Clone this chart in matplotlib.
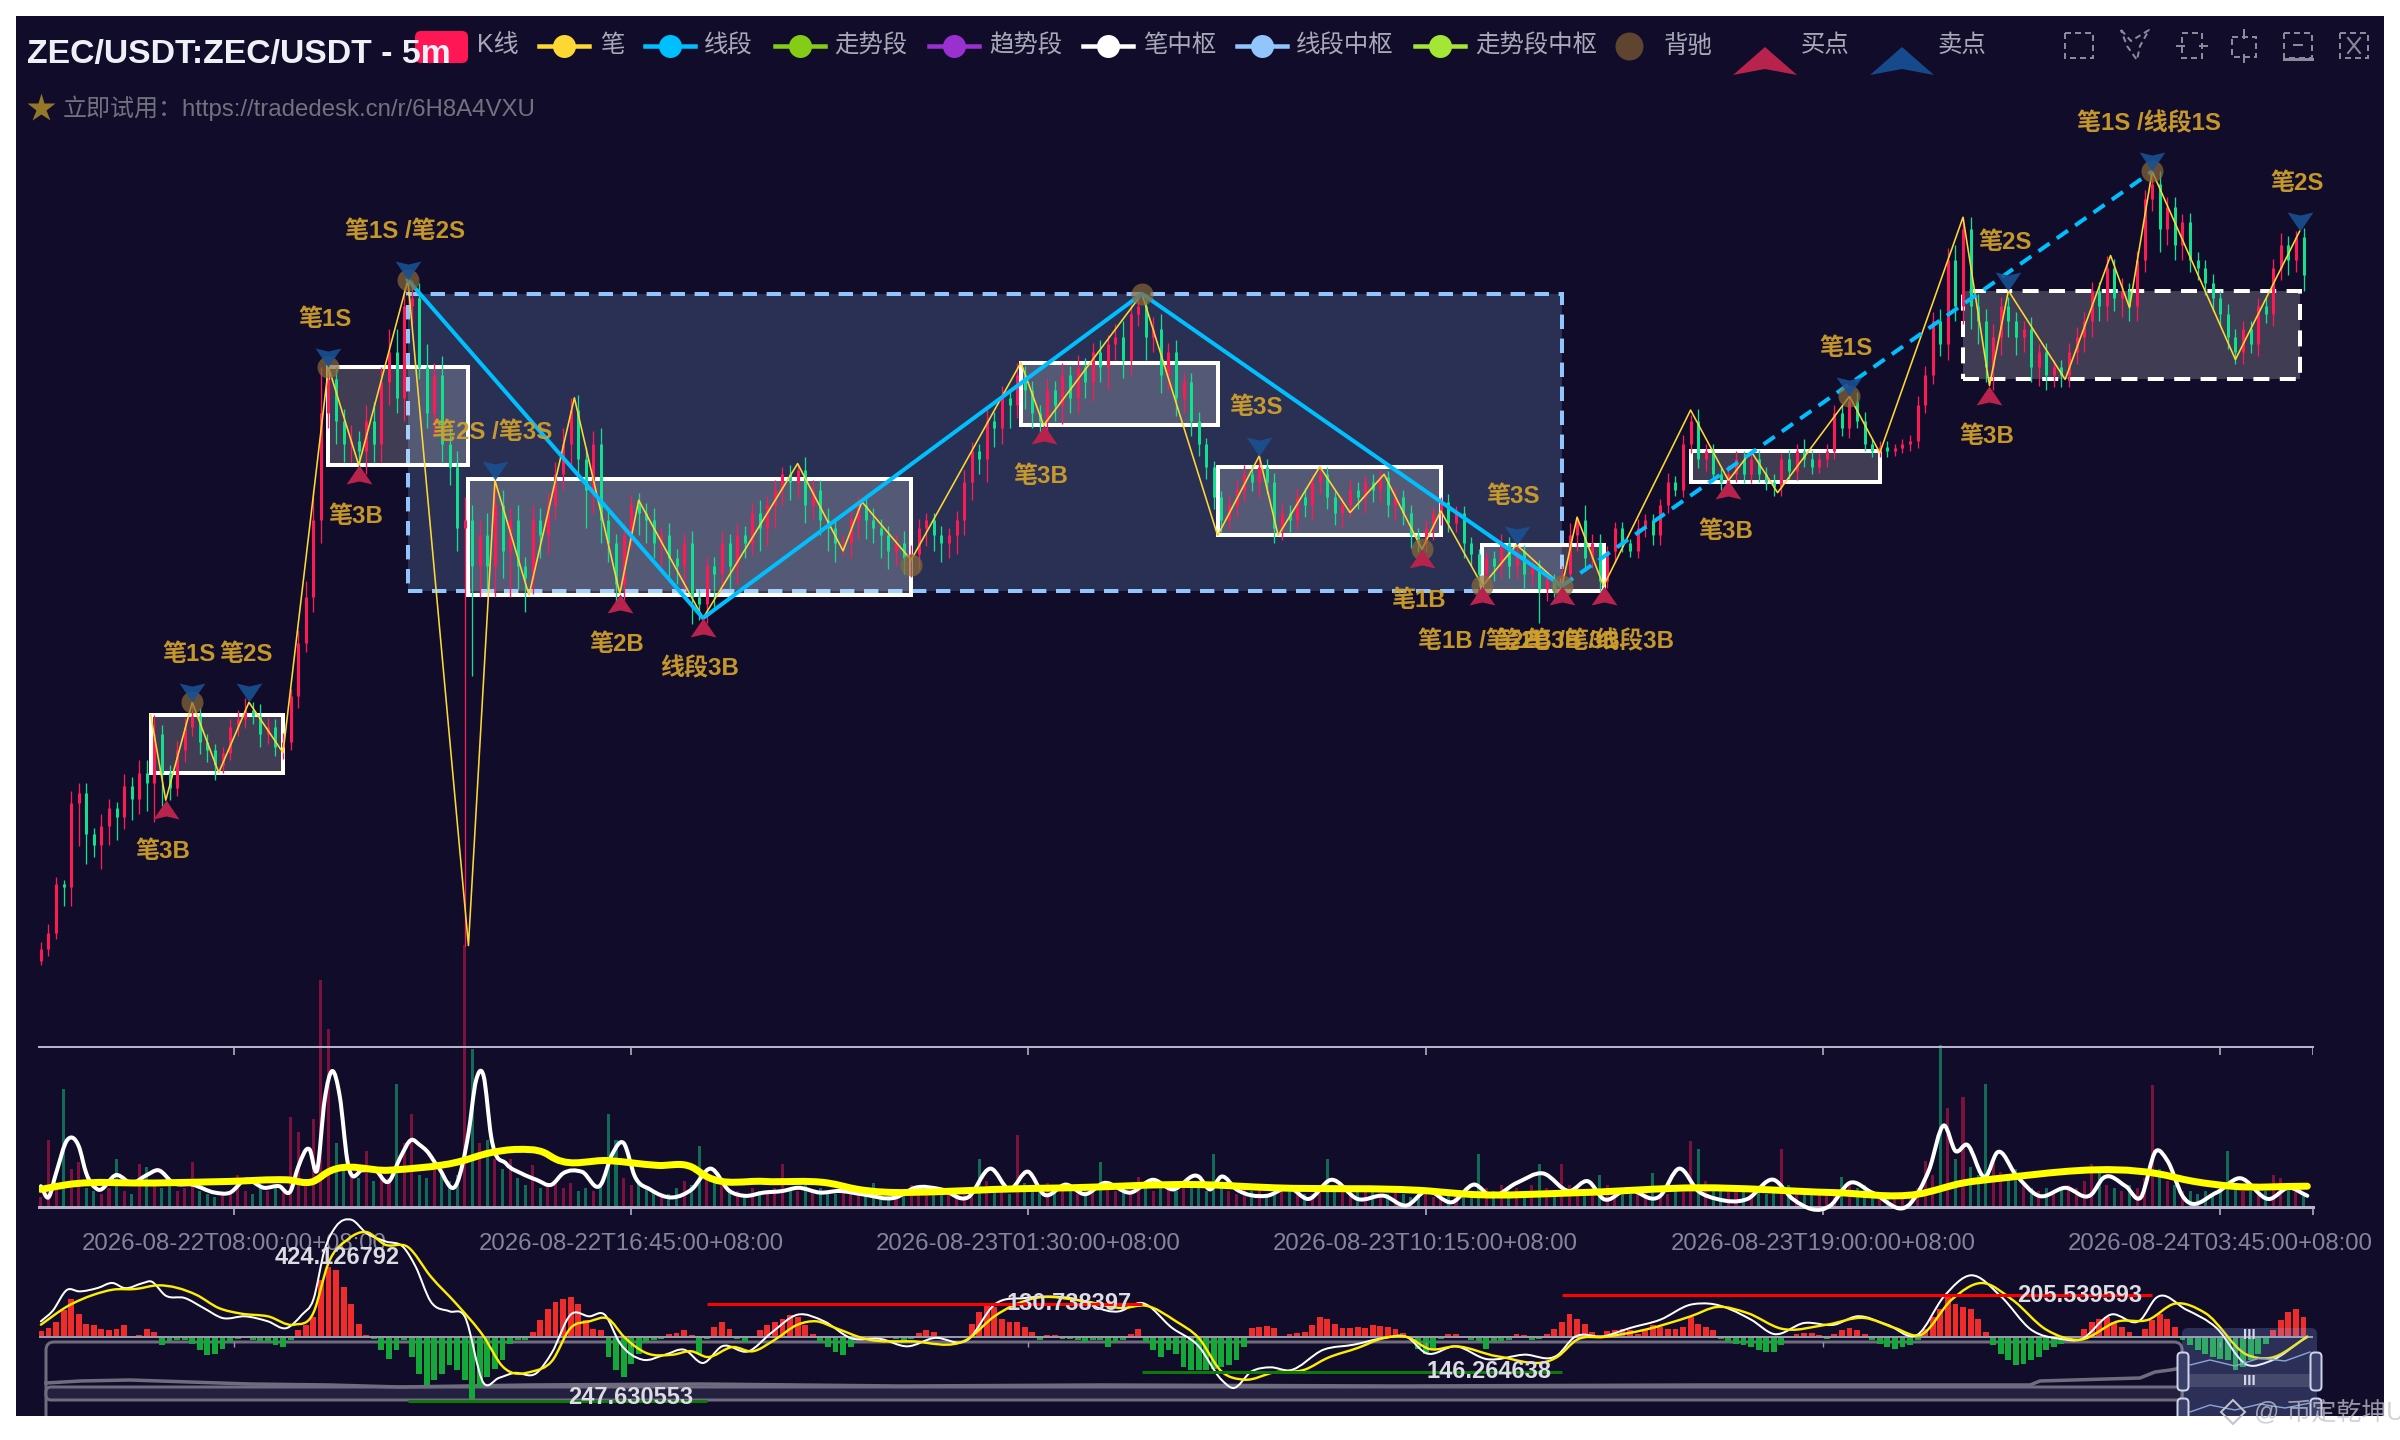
#!/usr/bin/python3
"""ZEC/USDT 5m chan chart: candles, bi/segment lines, pivots, volume and MACD."""

import numpy as np
import matplotlib
matplotlib.use('Agg')
import matplotlib.pyplot as plt
from matplotlib.path import Path
from matplotlib.patches import Rectangle, FancyBboxPatch, PathPatch

plt.rcParams['font.family'] = ['Liberation Sans', 'Noto Sans CJK SC', 'DejaVu Sans']

#
# Data, all read off the picture. The price has no scale there, so units are free.
#

TITLE = "ZEC/USDT:ZEC/USDT - 5m"
SUBTITLE = "立即试用：https://tradedesk.cn/r/6H8A4VXU"

tick_idx = [51, 156, 261, 366, 471, 576]
tick_labels = ["2026-08-22T08:00:00+08:00", "2026-08-22T16:45:00+08:00",
               "2026-08-23T01:30:00+08:00", "2026-08-23T10:15:00+08:00",
               "2026-08-23T19:00:00+08:00", "2026-08-24T03:45:00+08:00"]

# candles, one kept for every second bar
closes = [20, 30, 62, 60, 115, 122, 95, 88, 100, 112, 106, 126, 118, 135, 128, 160, 135, 125, 150, 165,
          172, 155, 150, 140, 148, 165, 170, 176, 172, 160, 165, 152, 155, 185, 220, 250, 300, 370, 392, 365,
          350, 352, 345, 365, 350, 390, 410, 380, 440, 445, 400, 370, 395, 350, 335, 295, 300, 270, 290, 270,
          310, 280, 300, 270, 262, 300, 290, 310, 330, 350, 372, 340, 320, 350, 300, 285, 258, 290, 310, 305,
          300, 285, 290, 275, 270, 285, 250, 245, 270, 265, 285, 270, 290, 285, 305, 295, 310, 320, 330, 325,
          333, 310, 320, 300, 295, 285, 285, 300, 310, 300, 295, 290, 280, 285, 275, 278, 295, 300, 290, 285,
          290, 300, 325, 345, 340, 365, 360, 380, 375, 395, 385, 370, 365, 385, 375, 395, 380, 400, 390, 410,
          400, 415, 420, 405, 435, 440, 420, 425, 395, 410, 380, 390, 365, 350, 335, 315, 300, 310, 320, 330,
          325, 335, 325, 295, 305, 300, 315, 310, 325, 330, 315, 305, 310, 320, 315, 325, 320, 328, 310, 315,
          305, 290, 285, 295, 305, 312, 298, 305, 285, 278, 265, 275, 270, 285, 270, 280, 265, 270, 255, 262,
          255, 265, 290, 300, 275, 285, 260, 280, 295, 285, 280, 295, 300, 290, 310, 325, 320, 350, 365, 340,
          345, 330, 325, 330, 340, 330, 340, 330, 325, 322, 340, 332, 345, 340, 335, 340, 345, 370, 360, 378,
          365, 350, 345, 348, 345, 347, 350, 352, 375, 395, 430, 415, 470, 440, 490, 440, 430, 400, 420, 440,
          430, 420, 425, 400, 410, 395, 400, 395, 410, 420, 430, 450, 440, 465, 445, 450, 440, 470, 510, 520,
          490, 505, 480, 495, 470, 465, 455, 445, 435, 420, 410, 425, 415, 440, 435, 465, 480, 470, 485, 460]
wick_up = [4, 6, 5, 3, 8, 6, 6, 4, 8, 6, 4, 8, 6, 8, 8, 13, 6, 5, 6, 6,
           9, 5, 5, 4, 4, 5, 6, 8, 5, 8, 6, 5, 6, 5, 8, 10, 20, 30, 8, 8,
           8, 10, 6, 10, 12, 10, 15, 15, 12, 12, 10, 15, 8, 12, 10, 10, 15, 10, 10, 15,
           16, 10, 8, 10, 6, 10, 8, 8, 8, 10, 8, 10, 8, 8, 10, 8, 6, 8, 6, 8,
           6, 8, 5, 8, 6, 6, 8, 5, 6, 6, 8, 6, 8, 6, 6, 8, 6, 6, 5, 6,
           4, 8, 6, 6, 8, 6, 5, 8, 6, 6, 8, 6, 6, 5, 8, 6, 6, 5, 5, 6,
           5, 6, 8, 6, 5, 8, 6, 8, 6, 8, 6, 6, 5, 8, 6, 8, 6, 8, 6, 6,
           8, 6, 8, 10, 6, 8, 8, 8, 10, 6, 8, 6, 6, 6, 4, 4, 4, 6, 6, 6,
           6, 7, 5, 6, 6, 5, 6, 6, 5, 4, 5, 4, 5, 6, 5, 4, 5, 5, 4, 6,
           5, 5, 5, 5, 3, 3, 5, 4, 4, 4, 3, 4, 5, 6, 4, 4, 4, 4, 4, 3,
           3, 5, 8, 2, 10, 6, 6, 3, 4, 4, 3, 6, 4, 4, 4, 6, 4, 6, 4, 8,
           5, 5, 5, 6, 5, 5, 5, 6, 5, 5, 4, 6, 5, 8, 6, 4, 5, 5, 5, 3,
           6, 6, 4, 4, 4, 3, 3, 4, 6, 6, 6, 8, 8, 10, 8, 8, 8, 8, 8, 6,
           6, 6, 5, 8, 5, 6, 5, 5, 6, 6, 6, 6, 6, 8, 6, 8, 5, 6, 6, 8,
           8, 6, 6, 5, 6, 5, 5, 6, 5, 6, 5, 5, 5, 5, 6, 6, 8, 6, 4, 6]
wick_down = [3, 5, 4, 12, 12, 28, 20, 8, 16, 12, 15, 8, 14, 10, 18, 25, 22, 8, 5, 8,
             6, 8, 8, 10, 5, 5, 6, 6, 5, 8, 6, 6, 8, 5, 8, 6, 10, 15, 10, 15,
             12, 12, 10, 15, 12, 12, 15, 10, 15, 12, 8, 10, 15, 12, 12, 15, 273, 72, 20, 15,
             20, 18, 30, 15, 22, 10, 15, 12, 10, 10, 15, 12, 25, 15, 15, 12, 15, 10, 8, 15,
             15, 10, 15, 12, 12, 15, 18, 10, 12, 22, 10, 15, 12, 10, 8, 15, 12, 15, 10, 12,
             10, 12, 10, 10, 15, 12, 8, 10, 12, 12, 10, 15, 12, 10, 10, 12, 10, 12, 10, 12,
             10, 12, 10, 12, 10, 15, 12, 10, 15, 8, 12, 10, 8, 12, 10, 12, 10, 10, 10, 12,
             10, 15, 10, 12, 10, 8, 15, 10, 12, 10, 12, 10, 10, 8, 8, 8, 8, 6, 8, 8,
             6, 10, 8, 10, 8, 8, 6, 8, 10, 8, 8, 8, 10, 8, 8, 10, 8, 8, 8, 10,
             8, 8, 6, 6, 8, 8, 6, 6, 10, 8, 8, 6, 10, 8, 8, 8, 10, 8, 22, 8,
             5, 5, 5, 10, 8, 6, 6, 4, 8, 6, 4, 5, 6, 6, 6, 5, 4, 5, 6, 6,
             8, 5, 5, 5, 5, 6, 6, 5, 5, 6, 6, 5, 6, 5, 5, 4, 5, 5, 5, 6,
             5, 5, 4, 4, 4, 3, 3, 5, 5, 5, 6, 8, 10, 10, 12, 15, 15, 10, 15, 12,
             10, 12, 10, 10, 12, 10, 8, 8, 8, 8, 10, 10, 10, 10, 8, 12, 10, 10, 8, 8,
             15, 10, 10, 10, 8, 8, 8, 8, 8, 8, 8, 8, 6, 8, 6, 8, 8, 10, 8, 10]

# bi (stroke) line and segment line, turning points
bi_idx = [29, 33, 40, 47, 55, 64, 76, 84, 97, 113, 120, 129, 141, 153, 158, 175, 200, 212, 217, 230,
          259, 265, 291, 311, 322, 327, 338, 346, 355, 365, 370, 381, 390, 402, 406, 413, 436, 446, 452, 459,
          478, 486, 508, 515, 520, 535, 547, 552, 558, 580, 597]
bi_price = [173, 117, 181, 135, 181, 148, 400, 336, 457, 22, 326, 251, 380, 252, 313, 236, 337, 280, 312, 274,
            403, 362, 448, 290, 342, 290, 335, 305, 330, 281, 306, 257, 284, 257, 302, 257, 372, 326, 345, 318,
            381, 344, 498, 388, 450, 392, 473, 439, 528, 405, 489]
seg_idx = [97, 175, 291, 402]
seg_price = [457, 236, 448, 257]
seg_open_idx = [402, 558]
seg_open_price = [257, 528]

# pivots: first index, last index, low, high
pivot_start = [29, 76, 113, 259, 311, 381, 436]
pivot_end = [64, 113, 230, 311, 370, 413, 486]
pivot_low = [135, 336, 251, 362, 290, 254, 325]
pivot_high = [173, 400, 327, 403, 335, 284, 345]
open_pivot = (508, 597, 392, 450)
seg_pivot = (97, 402, 254, 448)

beichi_idx = [40, 76, 97, 230, 291, 365, 381, 402, 478, 558]
beichi_price = [181, 400, 457, 271, 448, 281, 257, 257, 381, 528]

buy_idx = [33, 84, 153, 175, 265, 365, 381, 402, 413, 446, 515]
buy_price = [117, 336, 252, 236, 362, 281, 257, 257, 257, 326, 388]
buy_text = ["笔3B", "笔3B", "笔2B", "线段3B", "笔3B", "笔1B", "笔1B /笔2B", "笔2B /笔3B", "笔3B /线段3B", "笔3B", "笔3B"]
buy_gap = [51, 51, 51, 51, 51, 51, 56, 56, 56, 51, 51]
sell_idx = [40, 55, 76, 97, 120, 322, 390, 478, 520, 558, 597]
sell_price = [181, 181, 400, 457, 326, 342, 284, 381, 450, 528, 489]
sell_text = ["笔1S", "笔2S", "笔1S", "笔1S /笔2S", "笔2S /笔3S", "笔3S", "笔3S", "笔1S", "笔2S", "笔1S /线段1S", "笔2S"]

# volume, one kept for every second bar
volumes = [6, 42, 14, 74, 24, 28, 12, 10, 8, 12, 30, 10, 8, 27, 25, 14, 12, 14, 10, 12,
           28, 10, 8, 6, 8, 9, 20, 10, 8, 12, 10, 14, 10, 56, 47, 16, 55, 142, 111, 40,
           25, 22, 18, 35, 16, 20, 18, 77, 40, 58, 20, 18, 25, 22, 16, 20, 164, 99, 40, 42,
           30, 24, 30, 18, 14, 26, 12, 14, 16, 12, 15, 10, 12, 10, 14, 58, 42, 18, 14, 16,
           12, 10, 8, 8, 12, 16, 14, 38, 20, 18, 14, 10, 10, 8, 12, 10, 10, 12, 27, 12,
           10, 14, 10, 12, 10, 8, 10, 8, 10, 8, 15, 8, 7, 6, 8, 14, 10, 12, 10, 8,
           8, 6, 8, 10, 30, 16, 10, 12, 8, 45, 15, 10, 12, 15, 10, 10, 12, 8, 10, 10,
           28, 12, 10, 12, 10, 19, 12, 10, 14, 12, 10, 14, 12, 16, 10, 33, 12, 10, 8, 12,
           10, 12, 8, 8, 10, 12, 10, 8, 8, 12, 30, 12, 10, 8, 10, 12, 10, 8, 8, 10,
           8, 6, 8, 8, 6, 8, 10, 8, 8, 10, 33, 12, 10, 14, 10, 12, 10, 14, 27, 12,
           10, 27, 14, 12, 10, 12, 20, 14, 10, 8, 8, 10, 12, 21, 8, 8, 10, 14, 41, 36,
           16, 12, 10, 14, 12, 10, 8, 10, 8, 12, 36, 14, 8, 10, 8, 10, 8, 8, 19, 15,
           12, 14, 10, 8, 6, 6, 6, 8, 12, 29, 20, 101, 62, 30, 69, 25, 20, 77, 30, 22,
           20, 24, 14, 12, 10, 12, 10, 12, 14, 12, 16, 27, 24, 14, 12, 10, 14, 12, 18, 76,
           24, 16, 14, 10, 10, 8, 10, 8, 10, 35, 12, 10, 10, 8, 10, 20, 18, 12, 10, 8]
ma5_idx = [0, 2, 4, 7, 10, 12, 15, 20, 24, 28, 31, 35, 40, 46, 50, 54, 59, 63, 66, 68,
           71, 73, 75, 77, 79, 81, 85, 88, 92, 95, 98, 100, 102, 105, 110, 113, 115, 117, 119, 123,
           127, 131, 135, 138, 143, 148, 151, 154, 157, 161, 167, 172, 177, 182, 186, 191, 196, 200, 206, 211,
           217, 226, 231, 238, 245, 251, 256, 261, 265, 271, 276, 281, 288, 294, 299, 306, 309, 312, 316, 324,
           330, 335, 341, 348, 355, 361, 366, 373, 379, 383, 390, 397, 404, 409, 413, 419, 428, 433, 438, 443,
           451, 458, 463, 473, 478, 484, 494, 499, 503, 506, 509, 514, 517, 522, 528, 535, 542, 545, 551, 555,
           559, 562, 566, 575, 581, 589, 594, 599]
ma5_vals = [13, 6, 21, 42, 38, 21, 11, 20, 15, 20, 23, 15, 14, 9, 9, 17, 12, 13, 10, 25,
            36, 23, 67, 85, 69, 29, 23, 24, 16, 31, 42, 39, 35, 25, 15, 46, 79, 82, 44, 27,
            21, 17, 14, 21, 22, 14, 33, 40, 19, 11, 6, 11, 24, 10, 7, 9, 10, 12, 9, 10,
            8, 6, 12, 11, 6, 24, 11, 22, 8, 14, 8, 15, 9, 17, 11, 19, 11, 19, 11, 7,
            12, 5, 17, 5, 7, 1, 10, 3, 14, 7, 15, 21, 10, 16, 5, 11, 7, 24, 10, 5,
            5, 17, 5, 1, 15, 9, 2, 23, 51, 35, 39, 19, 34, 20, 7, 12, 8, 18, 13, 6,
            35, 29, 7, 9, 18, 5, 12, 7]
ma60_idx = [0, 7, 30, 50, 65, 72, 76, 92, 110, 119, 126, 133, 136, 150, 163, 172, 176, 191, 208, 216,
            242, 252, 272, 306, 326, 367, 377, 407, 438, 474, 496, 508, 518, 559, 569, 579, 599]
ma60_vals = [11, 14, 15, 16, 17, 16, 22, 23, 28, 34, 36, 34, 30, 29, 26, 25, 19, 16, 15, 11,
             10, 11, 12, 14, 12, 10, 8, 9, 12, 9, 8, 15, 18, 21, 16, 13, 13]

# macd lines and histogram, same arbitrary unit
dif_idx = [0, 3, 7, 10, 15, 19, 22, 27, 29, 33, 38, 43, 48, 54, 60, 65, 69, 72, 75, 78,
           82, 86, 91, 96, 99, 103, 108, 112, 117, 121, 125, 131, 135, 140, 145, 149, 153, 159, 165, 170,
           175, 180, 187, 193, 200, 207, 214, 222, 229, 236, 245, 252, 260, 272, 285, 291, 299, 306, 312, 315,
           320, 325, 330, 339, 347, 355, 361, 366, 374, 382, 392, 401, 405, 413, 420, 428, 436, 441, 452, 458,
           466, 474, 480, 488, 496, 503, 510, 518, 526, 534, 539, 547, 555, 559, 567, 575, 583, 589, 599]
dif_vals = [47, 77, 142, 137, 147, 162, 147, 162, 167, 124, 117, 87, 57, 62, 47, 27, 67, 112, 262, 332,
            352, 312, 287, 267, 212, 107, 77, 62, -138, -123, -108, -108, -48, 67, 62, 67, -18, -68, -53, -38,
            -78, -28, -43, 12, 67, 47, -3, -6, -28, -3, -8, 97, 117, 117, 77, 102, 27, -28, -128, -153,
            -103, -91, -100, -38, -23, -3, 0, -48, -28, -66, -53, -53, -3, 2, 27, 52, 97, 100, 52, 9,
            42, 37, 62, 37, 7, 122, 185, 122, 22, -6, -8, 67, 52, 117, 82, 27, -83, -73, 2]
dea_idx = [0, 7, 14, 19, 25, 31, 41, 47, 53, 60, 67, 72, 76, 81, 86, 91, 97, 103, 110, 117,
           122, 130, 135, 140, 145, 150, 154, 160, 167, 172, 176, 183, 188, 194, 200, 205, 210, 218, 230, 245,
           252, 262, 276, 286, 292, 300, 306, 312, 318, 326, 334, 340, 348, 355, 361, 367, 374, 385, 401, 406,
           413, 424, 436, 443, 451, 460, 472, 482, 490, 497, 505, 513, 521, 530, 539, 549, 557, 564, 572, 583,
           589, 599]
dea_vals = [37, 92, 127, 142, 144, 155, 127, 87, 70, 62, 37, 72, 222, 292, 315, 277, 270, 182, 97, 2,
            -88, -103, -73, 27, 47, 54, 2, -48, -53, -43, -60, -30, -43, -8, 37, 47, 27, -6, -13, -6,
            62, 115, 107, 87, 94, 47, -3, -103, -128, -106, -98, -63, -33, -3, 0, -36, -28, -58, -58, -8,
            0, 22, 62, 90, 72, 25, 37, 57, 27, 7, 112, 162, 112, 22, -8, 47, 52, 100, 72, -53,
            -63, 0]
macd_hist = [18, 28, 45, 80, 115, 70, 40, 35, 25, 20, 25, 35, -4, 5, 25, 15, -25, -12, -8, -10,
             -22, -40, -55, -50, -35, -15, -6, -3, -8, -12, -15, -25, -30, -10, 20, 35, 60, 170, 210, 200,
             150, 100, 40, 5, -5, -40, -65, -40, -10, -60, -110, -145, -130, -110, -85, -100, -130, -185, -150, -120,
             -95, -70, -20, -10, -8, 15, 50, 85, 105, 115, 120, 100, 50, 25, 20, -60, -100, -120, -80, -50,
             -15, -10, -5, 8, 12, 20, 5, -50, -5, 30, 45, 25, -5, -15, -3, 20, 35, 45, 55, 65,
             60, 35, 10, -15, -30, -45, -55, -30, -8, -5, -4, -3, -3, -5, -15, -5, 12, 20, 15, 3,
             -2, -3, -4, 40, 75, 95, 90, 55, 45, 45, 30, 15, -8, 5, 5, -5, -6, -8, -15, -8,
             -10, -30, -15, -8, 10, 25, -15, -40, -60, -40, -50, -90, -100, -100, -100, -95, -90, -85, -70, -30,
             28, 30, 32, 28, 3, 8, 12, 15, 35, 60, 55, 40, 28, 28, 30, 28, 35, 32, 30, 25,
             12, 3, -35, -50, -40, -5, 8, 8, -4, -10, -12, -35, -12, -12, -10, 10, 5, -8, -5, 10,
             25, 45, 70, 55, 40, 15, 5, 18, 22, 25, 22, 10, 25, 35, 30, 25, 25, 30, 60, 40,
             30, 20, -5, -15, -20, -25, -30, -40, -45, -45, -25, -3, 8, 12, 12, 5, -5, 10, 20, 28,
             22, 10, -8, -22, -30, -35, -30, -25, -8, 25, 60, 85, 120, 100, 90, 85, 55, 15, -25, -50,
             -70, -85, -80, -70, -60, -40, -30, -20, -8, -3, 25, 45, 55, 60, 45, 30, 15, 3, 25, 50,
             70, 55, 30, -10, -25, -40, -50, -60, -65, -70, -100, -90, -70, -50, -20, 20, 50, 75, 85, 60]
# mark lines between the segment ends: level, first index, last index
macd_red_marks = [(98, 176, 291), (125, 402, 558)]
macd_green_marks = [(-191, 97, 176), (-106, 291, 402)]

legend_names = ["笔", "线段", "走势段", "趋势段", "笔中枢", "线段中枢", "走势段中枢"]
legend_colors = ["#fdd835", "#00bfff", "#84cc16", "#9b30d0", "#ffffff", "#93c5fd", "#a3e635"]
macd_peaks = ["424.126792", "130.738397", "247.630553", "146.264638", "205.539593"]

# data shadow of the zoom slider, its own free scale
shadow_x = [46, 80, 130, 250, 330, 400, 530, 700, 900, 1100, 1400, 1700, 1880, 2030, 2040, 2140, 2155, 2170, 2182]
shadow_y = [1383, 1381, 1380, 1384, 1385, 1387, 1385, 1384, 1386, 1385, 1386, 1385, 1385, 1385, 1381, 1378, 1372, 1370, 1368]

#
# Plot
#

UP, DOWN = '#ff1a55', '#12e08f'
BG = '#100c2a'
W, H = 2400, 1440
LABEL = '#d0a02c'

px = 72 / 100  # points per pixel at dpi 100


def axes_at(left, top, right, bottom, zorder):
    ax = fig.add_axes([left / W, 1 - bottom / H, (right - left) / W, (bottom - top) / H], zorder=zorder)
    ax.patch.set_visible(False)
    return ax


def smooth_line(ax, xs, ys, **kwargs):
    """Draw a smooth curve through the points, like the smooth option of the original chart."""
    x, y = np.asarray(xs, float), np.asarray(ys, float)
    m = np.gradient(y, x)
    verts, codes = [(x[0], y[0])], [Path.MOVETO]
    for k in range(len(x) - 1):
        d = (x[k + 1] - x[k]) / 3
        verts += [(x[k] + d, y[k] + m[k] * d), (x[k + 1] - d, y[k + 1] - m[k + 1] * d), (x[k + 1], y[k + 1])]
        codes += [Path.CURVE4] * 3
    patch = PathPatch(Path(verts, codes), fc='none', capstyle='round', joinstyle='round', **kwargs)
    ax.add_patch(patch)
    return patch


fig = plt.figure(figsize=(24, 14.4), dpi=100, facecolor='white')

# whole figure in pixels, for the things that are not data
bg = axes_at(0, 0, W, H, 0)
bg.set_xlim(0, W)
bg.set_ylim(H, 0)
bg.axis('off')
top = axes_at(0, 0, W, H, 6)
top.set_xlim(0, W)
top.set_ylim(H, 0)
top.axis('off')

panel = Rectangle((16, 16), 2368, 1400, fc=BG, ec='none')
bg.add_patch(panel)

# slider behind the macd
outline = FancyBboxPatch((46, 1342), 2136, 120, boxstyle='round,pad=0,rounding_size=8',
                         fc='none', ec='#6e6c7e', lw=3 * px)
bg.add_patch(outline)
outline.set_clip_path(panel)
bg.add_patch(FancyBboxPatch((46, 1387), 2136, 13, boxstyle='round,pad=0,rounding_size=5',
                            fc='#232040', ec='#6e6c7e', lw=3 * px))
bg.plot(shadow_x, shadow_y, color='#6e6c7e', lw=3.5 * px)

XLIM = (-0.5, 600.5)

# price
ax = axes_at(39, 122.4, 2313, 1040.4, 2)
ax.set_xlim(*XLIM)
ax.set_ylim(-40, 560)
ax.axis('off')

n = len(closes)
c_idx = np.arange(n) * 2
c_close = np.array(closes, dtype=float)
c_open = np.r_[c_close[0] - 8, c_close[:-1]]
c_high = np.maximum(c_open, c_close) + np.array(wick_up[:n])
c_low = np.minimum(c_open, c_close) - np.array(wick_down[:n])
c_color = [UP if c >= o else DOWN for o, c in zip(c_open, c_close)]

for s, e, lo, hi in zip(pivot_start, pivot_end, pivot_low, pivot_high):
    ax.add_patch(Rectangle((s, lo), e - s, hi - lo, fc=(1, 1, 1, 0.2), ec='white', lw=4 * px, zorder=3))
s, e, lo, hi = open_pivot
ax.add_patch(Rectangle((s, lo), e - s, hi - lo, fc=(1, 1, 1, 0.2), ec='white', lw=4 * px,
                       linestyle=(0, (4, 2.6)), zorder=3))
s, e, lo, hi = seg_pivot
ax.add_patch(Rectangle((s, lo), e - s, hi - lo, fc=(0.576, 0.773, 0.992, 0.2), ec='#93c5fd', lw=4 * px,
                       linestyle=(0, (3.6, 2.4)), zorder=2))

ax.vlines(c_idx, c_low, c_high, colors=c_color, lw=1.3 * px, zorder=4, capstyle='butt')
ax.vlines(c_idx, c_open, c_close, colors=c_color, lw=3 * px, zorder=4, capstyle='butt')

ax.plot(bi_idx, bi_price, color='#fdd835', lw=1.6 * px, zorder=5)
ax.plot(seg_idx, seg_price, color='#00bfff', lw=4 * px, zorder=6)
ax.plot(seg_open_idx, seg_open_price, color='#00bfff', lw=4 * px, linestyle=(0, (3.4, 2.2)), zorder=6)

ax.plot(beichi_idx, beichi_price, 'o', ms=22 * px, color='#8a6a3a', alpha=0.7, mec='none', zorder=7, ls='none')

hw = 0.68
buy_marker = Path([(0, 0), (hw, -1), (0, -0.84), (-hw, -1), (0, 0)],
                  [Path.MOVETO, Path.LINETO, Path.LINETO, Path.LINETO, Path.CLOSEPOLY])
sell_marker = Path([(0, 0), (hw, 1), (0, 0.84), (-hw, 1), (0, 0)],
                   [Path.MOVETO, Path.LINETO, Path.LINETO, Path.LINETO, Path.CLOSEPOLY])
ax.plot(buy_idx, buy_price, ls='none', marker=buy_marker, ms=38 * px, color='#b7234d', mec='none', zorder=8)
ax.plot(sell_idx, sell_price, ls='none', marker=sell_marker, ms=38 * px, color='#1a5092', mec='none', alpha=0.9, zorder=8)
for i, p, t, gap in zip(buy_idx, buy_price, buy_text, buy_gap):
    ax.annotate(t, (i, p), xytext=(-3 * px, -gap * px), textcoords='offset points', ha='center', va='center',
                color=LABEL, fontsize=17.3, fontweight='bold', zorder=9, alpha=0.95)
for i, p, t in zip(sell_idx, sell_price, sell_text):
    ax.annotate(t, (i, p), xytext=(-3 * px, 48 * px), textcoords='offset points', ha='center', va='center',
                color=LABEL, fontsize=17.3, fontweight='bold', zorder=9, alpha=0.95)

# volume
vol = axes_at(39, 1047, 2313, 1207, 3)
vol.set_xlim(*XLIM)
vol.set_ylim(0, 100)
v_idx = np.arange(len(volumes)) * 2
v_color = (c_color + [UP] * len(volumes))[:len(volumes)]
vol.bar(v_idx, volumes, width=0.8, color=v_color, alpha=0.45, clip_on=False, lw=0)
smooth_line(vol, ma5_idx, ma5_vals, ec='white', lw=4 * px, clip_on=False, zorder=4)
smooth_line(vol, ma60_idx, ma60_vals, ec='#ffff00', lw=7 * px, zorder=5)
for name in ('left', 'right'):
    vol.spines[name].set_visible(False)
for name in ('top', 'bottom'):
    vol.spines[name].set_color('#b6b3c8')
vol.spines['top'].set_linewidth(2 * px)
vol.spines['bottom'].set_linewidth(3 * px)
vol.set_yticks([])
vol.set_xticks(tick_idx + [XLIM[1]])
vol.set_xticklabels(tick_labels + [""], fontsize=17.3, color='#85859a')
vol.tick_params(axis='x', length=8 * px, width=1.6 * px, color='#b6b3c8', pad=13)
vol.vlines(tick_idx + [XLIM[1]], 95, 100, color='#b6b3c8', lw=1.6 * px)

# macd
macd = axes_at(39, 1200, 2313, 1416, 4)
macd.set_xlim(*XLIM)
macd.set_ylim(-237, 411)
macd.axis('off')
h_idx = np.arange(len(macd_hist)) * 2
h_color = ['#f02b2b' if h >= 0 else '#14a83a' for h in macd_hist]
macd.bar(h_idx, macd_hist, width=1.55, color=h_color, lw=0)
macd.axhline(0, color='#9a98aa', lw=2 * px, zorder=1)
smooth_line(macd, dif_idx, dif_vals, ec='white', lw=2 * px, zorder=3)
smooth_line(macd, dea_idx, dea_vals, ec='#ffee00', lw=2.4 * px, zorder=3)
for level, a, b in macd_red_marks:
    macd.hlines(level, a, b, color='#ff0000', lw=3 * px, zorder=4)
for level, a, b in macd_green_marks:
    macd.hlines(level, a, b, color='#0b7a0b', lw=3 * px, zorder=4)
macd.vlines(tick_idx, -30, -15, color='#9a98aa', lw=1.4 * px)
for text, x, y in zip(macd_peaks, [337, 1069, 631, 1489, 2080], [1258, 1303, 1398, 1371, 1295]):
    top.text(x, y, text, color='#dcdce2', fontsize=17, fontweight='bold', ha='center', va='center')

# title, legend, toolbox
top.add_patch(FancyBboxPatch((421, 37), 41, 20, boxstyle='round,pad=6,rounding_size=6', fc='#ff1654', ec='none'))
top.text(27, 55, TITLE, color='#eef0f8', fontsize=24.3, fontweight='bold', va='center', ha='left')
top.text(477, 45, "K线", color='#a9a9b8', fontsize=18, va='center', ha='left')
icon_left = [539, 645, 775, 929, 1083, 1237, 1415]
text_left = [600, 704, 834, 989, 1143, 1296, 1475]
for x0, tx, name, col in zip(icon_left, text_left, legend_names, legend_colors):
    top.plot([x0, x0 + 50], [46, 46], color=col, lw=4.5 * px)
    top.plot([x0 + 25], [46], 'o', ms=23 * px, color=col, mec='none')
    top.text(tx, 46, name, color='#a9a9b8', fontsize=17.6, va='center', ha='left')
top.plot([1629], [46], 'o', ms=28 * px, color='#5f452f', mec='none')
top.text(1664, 46, "背驰", color='#a9a9b8', fontsize=17.6, va='center', ha='left')
for cx, col, name, tx in ((1765, '#b7234d', "买点", 1801), (1902, '#174a8c', "卖点", 1937)):
    top.fill([cx, cx + 32, cx, cx - 32], [47, 75, 69, 75], color=col, lw=0)
    top.text(tx, 46, name, color='#a9a9b8', fontsize=17.6, va='center', ha='left')

top.plot([41], [108], marker='*', ms=30 * px, color='#93782a', mec='none')
top.text(63, 108, SUBTITLE, color='#72727f', fontsize=17.3, va='center', ha='left')

TOOL = '#8a8a9a'
tool_x = [2079, 2135, 2192, 2244, 2298, 2354]
for k, cx in enumerate(tool_x):
    if k in (0, 4, 5):
        top.add_patch(Rectangle((cx - 14, 33), 28, 25, fc='none', ec=TOOL, lw=2 * px, linestyle=(0, (3, 2))))
    if k == 0:
        top.add_patch(Rectangle((cx - 9, 38), 18, 15, fc='none', ec=BG, lw=2 * px))
    elif k == 1:
        top.plot([cx - 14, cx - 4, cx + 14, cx + 5, cx + 2, cx - 8, cx - 14], [30, 41, 30, 46, 60, 46, 30],
                 color=TOOL, lw=2 * px, ls=(0, (3, 2)))
    elif k == 2:
        top.add_patch(Rectangle((cx - 10, 33), 20, 25, fc='none', ec=TOOL, lw=2 * px, linestyle=(0, (3, 2))))
        top.plot([cx - 15, cx - 8], [46, 46], color=TOOL, lw=2 * px)
        top.plot([cx + 8, cx + 15], [46, 46], color=TOOL, lw=2 * px)
    elif k == 3:
        top.add_patch(Rectangle((cx - 12, 37), 24, 20, fc='none', ec=TOOL, lw=2 * px, linestyle=(0, (3, 2))))
        top.plot([cx, cx], [30, 38], color=TOOL, lw=2 * px)
        top.plot([cx, cx], [55, 62], color=TOOL, lw=2 * px)
    elif k == 4:
        top.plot([cx - 14, cx + 14], [59, 59], color=TOOL, lw=3 * px)
        top.plot([cx - 4, cx + 4], [45, 45], color=TOOL, lw=2 * px)
    elif k == 5:
        top.plot([cx - 6, cx + 6], [38, 53], color=TOOL, lw=2 * px)
        top.plot([cx + 6, cx - 6], [38, 53], color=TOOL, lw=2 * px)

# slider window on the right end
top.add_patch(FancyBboxPatch((2184, 1330), 131, 84, boxstyle='round,pad=2,rounding_size=6',
                             fc=(0.58, 0.7, 1.0, 0.22), ec='none'))
top.add_patch(Rectangle((2184, 1374), 131, 13, fc=(1, 1, 1, 0.12), ec='none'))
top.plot([2190, 2210, 2235, 2260, 2285, 2310], [1365, 1360, 1366, 1358, 1361, 1352], color='#8aa4d8', lw=1.4 * px)
top.plot([2190, 2210, 2235, 2260, 2285, 2310], [1412, 1405, 1410, 1404, 1408, 1403], color='#8aa4d8', lw=1.4 * px)
clip_box = Rectangle((16, 16), 2368, 1400, transform=top.transData)
for hx in (2183, 2316):
    top.add_patch(FancyBboxPatch((hx - 3, 1355), 6, 33, boxstyle='round,pad=2.5,rounding_size=4',
                                 fc='#3a3f6a', ec='#cfd3e6', lw=2 * px))
    lower = FancyBboxPatch((hx - 3, 1401), 6, 30, boxstyle='round,pad=2.5,rounding_size=4',
                           fc='#3a3f6a', ec='#cfd3e6', lw=2 * px)
    top.add_patch(lower)
    lower.set_clip_path(clip_box)
for gy in (1335, 1381):
    top.text(2249, gy, "III", color='#d5d8e8', fontsize=11, ha='center', va='center', fontweight='bold')

# watermark
top.plot([2233], [1412], marker='D', ms=17 * px, mfc='none', mec='#c4c4cc', mew=2 * px)
top.text(2254, 1412, "@ 币定乾坤U", color='#c4c4cc', fontsize=18, alpha=0.75, va='center', ha='left')

fig.savefig('out.png', dpi=100, facecolor='white')
